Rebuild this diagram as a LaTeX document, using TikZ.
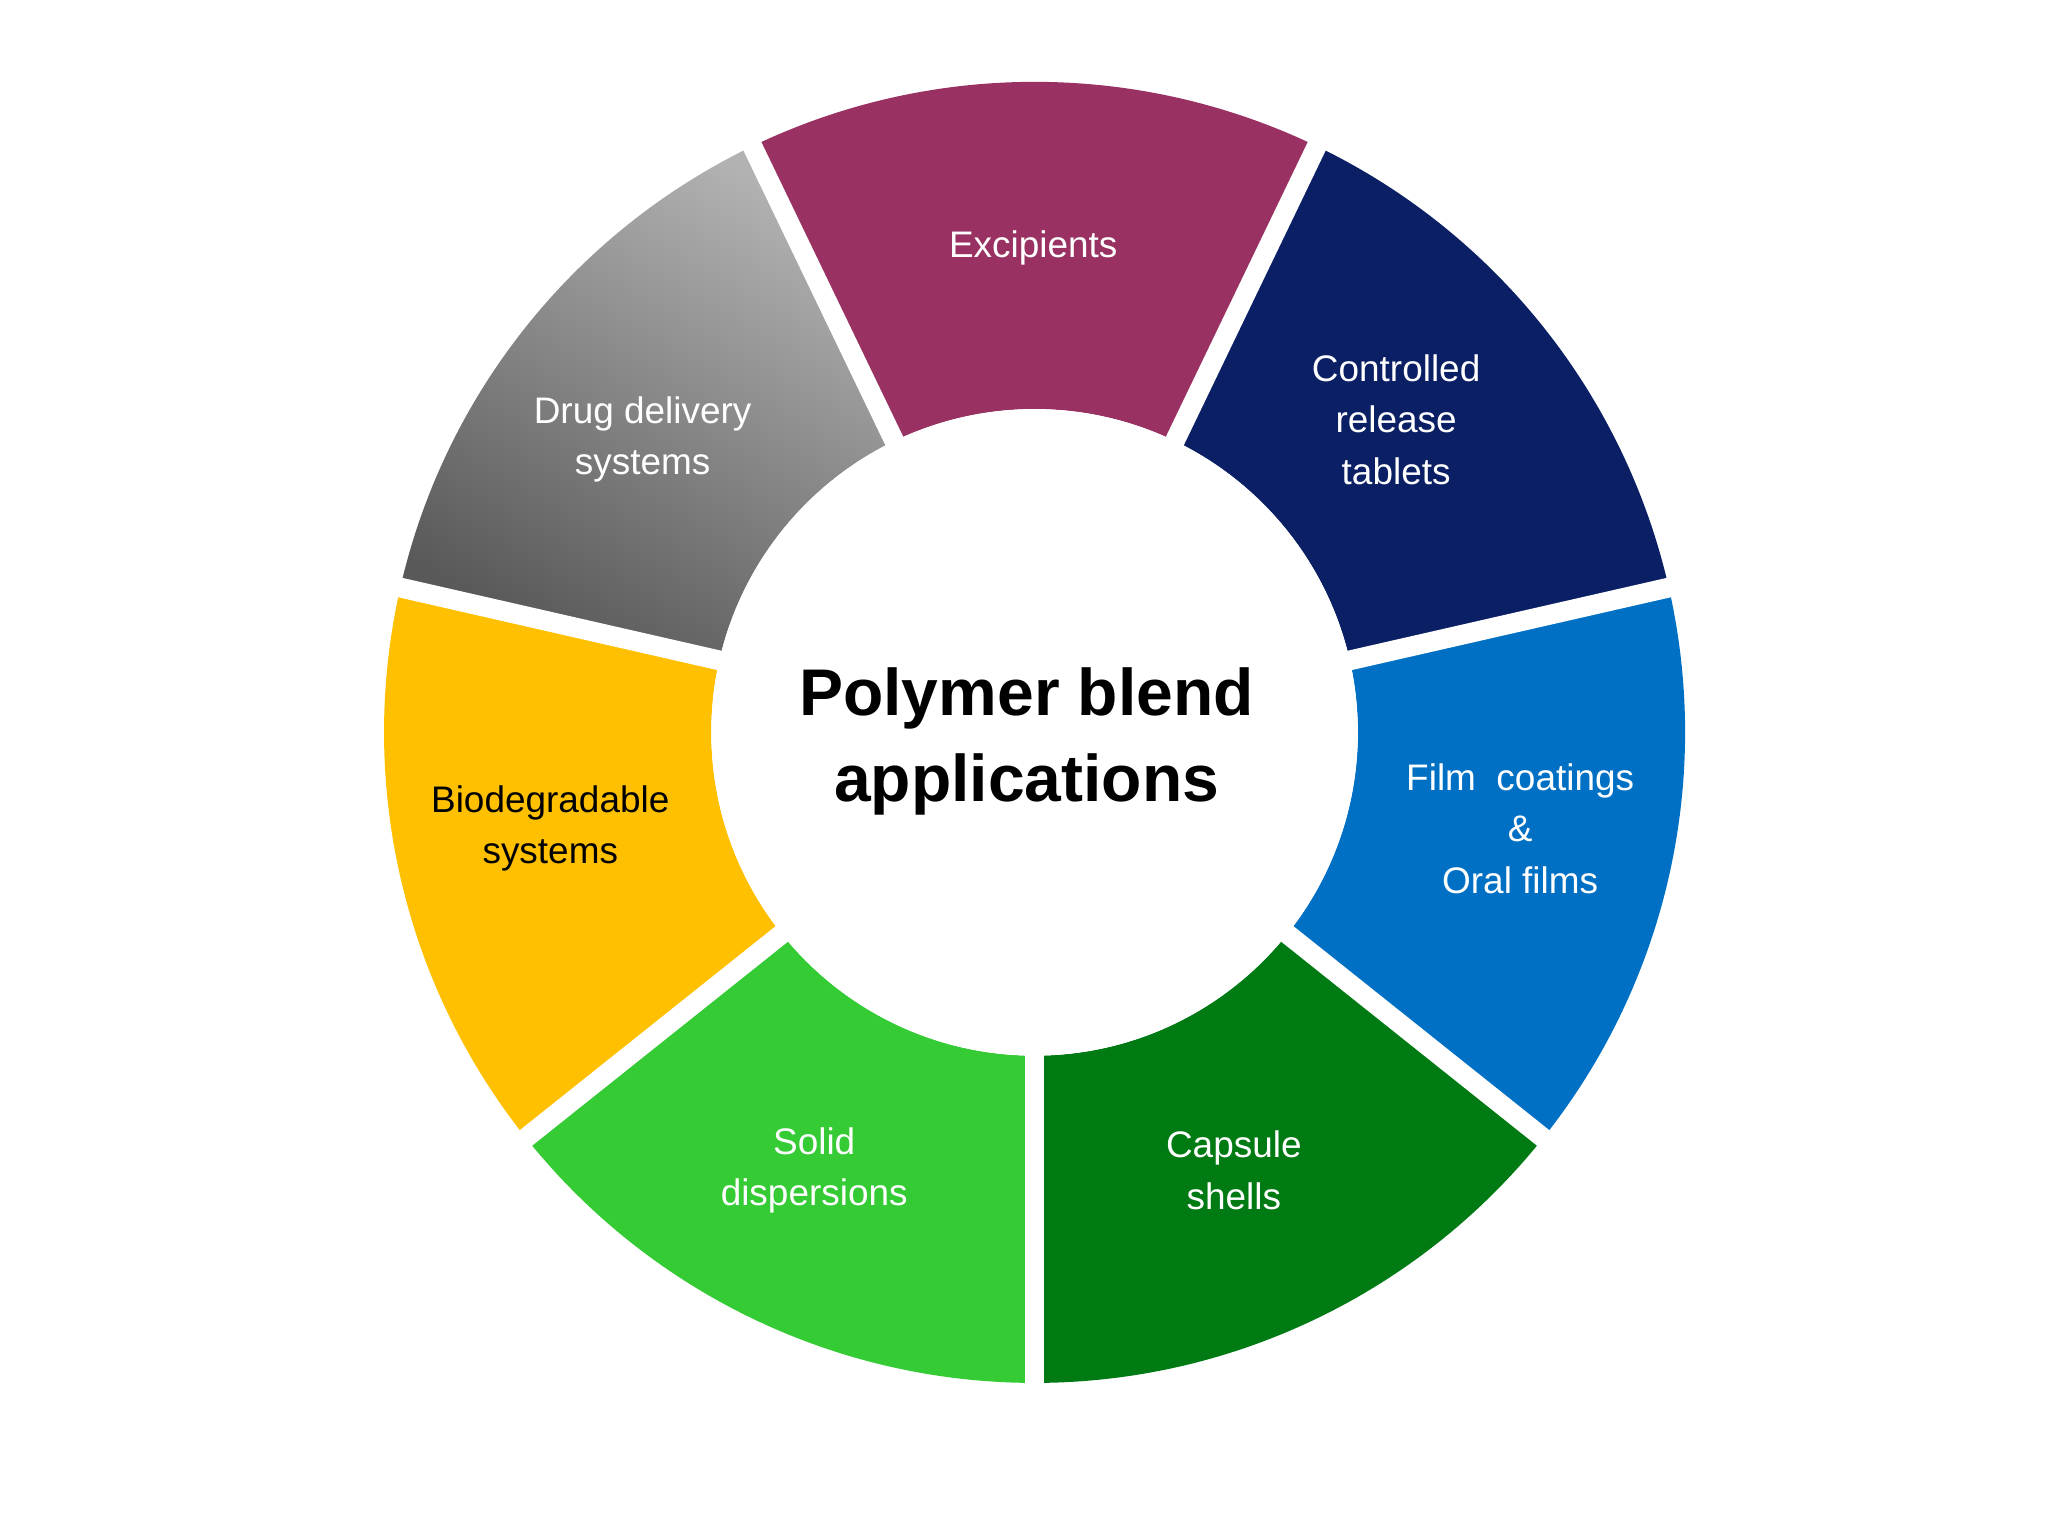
\documentclass[tikz,border=0pt]{standalone}
\usepackage{fontspec}
\setmainfont{Liberation Sans}
\begin{document}
\begin{tikzpicture}[x=1pt,y=1pt,
  lbl/.style={align=center,text=white,font=\fontsize{28}{39}\selectfont},
  gapline/.style={white,line width=15pt}]
\useasboundingbox (0,0) rectangle (1552,1164);
\definecolor{cexc}{HTML}{993262}
\definecolor{cctl}{HTML}{0B1F65}
\definecolor{cfilm}{HTML}{0070C4}
\definecolor{ccap}{HTML}{007A12}
\definecolor{csol}{HTML}{34CB35}
\definecolor{cbio}{HTML}{FEC000}
\begin{scope}[shift={(784,609)}]
\coordinate (c) at (0,0);
\newcommand{\seg}[3]{\fill[#3] (#1:493) arc[start angle=#1,end angle=#2,radius=493] -- (#2:245) arc[start angle=#2,end angle=#1,radius=245] -- cycle;}
\seg{64.29}{115.71}{cexc}
\seg{12.86}{64.29}{cctl}
\seg{-38.57}{12.86}{cfilm}
\seg{-90}{-38.57}{ccap}
\seg{-141.43}{-90}{csol}
\seg{-192.86}{-141.43}{cbio}
\shade[left color=black!30,right color=black!65,shading angle=-30] (115.71:493) arc[start angle=115.71,end angle=167.14,radius=493] -- (167.14:245) arc[start angle=167.14,end angle=115.71,radius=245] -- cycle;
\foreach \a in {-90,-38.57,12.86,64.29,115.71,167.14,218.57}
  \draw[gapline] (c) -- (\a:510);
\fill[white] (c) circle[radius=245];
\end{scope}
\node[lbl] (exc) at (783,976) {Excipients};
\node[lbl] (ctl) at (1058,846) {Controlled\\release\\tablets};
\node[lbl] (film) at (1152,536) {Film\ \ coatings\\\&\\Oral films};
\node[lbl] (cap) at (935,277) {Capsule\\shells};
\node[lbl] (sol) at (617,277) {Solid\\dispersions};
\node[lbl,text=black] (bio) at (417,536) {Biodegradable\\systems};
\node[lbl] (drug) at (487,831) {Drug delivery\\systems};
\node[align=center,font=\fontsize{50}{65}\selectfont\bfseries] (title) at (778,602) {Polymer blend\\applications};
\end{tikzpicture}
\end{document}
